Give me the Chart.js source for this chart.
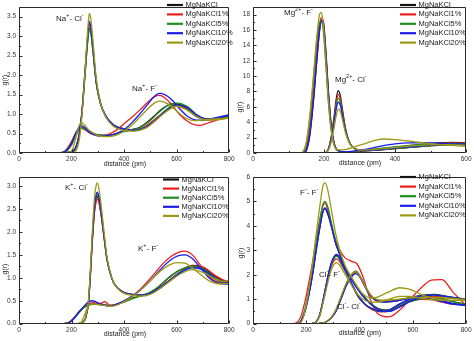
<!DOCTYPE html>
<html>
<head>
<meta charset="utf-8">
<script src="https://cdn.jsdelivr.net/npm/chart.js@4/dist/chart.umd.min.js"></script>
<style>
html, body { margin: 0; padding: 0; background: #fff; }
#wrap { position: relative; width: 474px; height: 341px; overflow: hidden; background: #fff; }
#wrap canvas { position: absolute; }
</style>
</head>
<body>
<div id="wrap">
  <canvas id="pNa" width="237" height="170" style="left:0;top:0"></canvas>
  <canvas id="pMg" width="237" height="170" style="left:237px;top:0"></canvas>
  <canvas id="pK" width="237" height="171" style="left:0;top:170px"></canvas>
  <canvas id="pF" width="237" height="171" style="left:237px;top:170px"></canvas>
</div>
<script>
// Series shared by all four panels
const seriesNames = ['MgNaKCl', 'MgNaKCl1%', 'MgNaKCl5%', 'MgNaKCl10%', 'MgNaKCl20%'];
const seriesColors = ['#141414', '#ee1d1d', '#1f8f1f', '#1c1ced', '#9c9a14'];

// ---- Na+ panel: radial distance (pm) and g(r) per series ----
const naClR = [150,195,215,230,240,250,258,264,268,274,282,294,310,330,360,400,440,480,520,560,600,640,680,720,760,800];
const naCl0  = [0,0.02,0.12,0.5,1.05,1.9,2.6,3.05,3.2,3.08,2.6,1.8,1.28,0.95,0.72,0.62,0.59,0.66,0.86,1.1,1.26,1.18,0.96,0.86,0.88,0.96];
const naCl1  = [0,0.03,0.14,0.52,1.1,1.95,2.68,3.13,3.3,3.16,2.66,1.83,1.28,0.95,0.72,0.62,0.6,0.68,0.88,1.08,1.2,1.13,0.94,0.86,0.88,0.92];
const naCl5  = [0,0.02,0.12,0.5,1.04,1.88,2.58,3.02,3.18,3.06,2.58,1.79,1.27,0.94,0.72,0.62,0.58,0.65,0.85,1.1,1.28,1.2,0.97,0.86,0.87,0.93];
const naCl10 = [0,0.02,0.12,0.5,1.08,1.98,2.72,3.2,3.38,3.22,2.7,1.86,1.3,0.96,0.72,0.61,0.58,0.65,0.85,1.08,1.23,1.17,0.96,0.86,0.88,0.98];
const naCl20 = [0,0,0.04,0.36,0.98,1.95,2.8,3.36,3.58,3.42,2.86,1.92,1.3,0.93,0.68,0.58,0.56,0.63,0.83,1.06,1.2,1.1,0.92,0.84,0.86,0.9];

const naFR = [150,175,200,215,228,238,250,265,285,310,340,370,400,430,460,490,515,535,555,580,610,640,670,690,720,760,800];
const naF0  = [0,0.03,0.22,0.45,0.6,0.65,0.63,0.56,0.5,0.46,0.45,0.5,0.56,0.6,0.66,0.8,0.95,1.08,1.18,1.26,1.25,1.12,0.96,0.9,0.87,0.9,0.96];
const naF1  = [0,0.05,0.3,0.5,0.6,0.63,0.6,0.53,0.47,0.45,0.48,0.58,0.75,0.92,1.1,1.3,1.44,1.48,1.42,1.25,1.0,0.82,0.72,0.71,0.77,0.86,0.9];
const naF5  = [0,0.03,0.2,0.43,0.58,0.64,0.62,0.56,0.5,0.46,0.45,0.49,0.55,0.59,0.65,0.78,0.93,1.06,1.17,1.26,1.27,1.15,0.98,0.9,0.86,0.88,0.93];
const naF10 = [0,0.04,0.25,0.5,0.65,0.7,0.66,0.55,0.47,0.43,0.45,0.5,0.6,0.78,1.0,1.25,1.45,1.53,1.5,1.38,1.15,0.95,0.85,0.84,0.86,0.92,0.98];
const naF20 = [0,0,0.05,0.35,0.7,0.78,0.72,0.6,0.5,0.43,0.42,0.46,0.56,0.72,0.92,1.13,1.28,1.33,1.3,1.2,1.02,0.88,0.83,0.84,0.86,0.88,0.9];

// ---- Mg2+ panel ----
const mgFR = [130,140,150,160,170,180,188,193,198,205,212,220,228,238,260,290,320,350,370,400,440,480,520,560,600];
const mgF0  = [0,0,0.3,2.3,6.6,12.2,16.2,17.3,17.1,13.4,8.3,3.8,1.4,0.35,0.1,0.2,0.3,0.4,0.5,0.65,0.9,1.12,1.3,1.38,1.3];
const mgF1  = [0,0.05,0.6,3.3,7.9,13.8,16.9,17.6,17.0,13.0,7.9,3.5,1.3,0.35,0.1,0.2,0.35,0.5,0.6,0.75,0.95,1.1,1.22,1.3,1.25];
const mgF5  = [0,0.1,1.2,4.4,9.4,14.8,17.0,17.1,15.9,11.6,6.8,3.0,1.1,0.3,0.1,0.25,0.4,0.55,0.65,0.8,1.0,1.12,1.2,1.25,1.2];
const mgF10 = [0,0,0.4,2.5,6.8,12.3,16.1,17.2,16.8,12.9,8.0,3.6,1.3,0.35,0.15,0.3,0.5,0.8,1.0,1.2,1.32,1.33,1.28,1.18,1.1];
const mgF20 = [0,0.15,1.4,4.9,9.9,15.3,18.1,18.3,16.6,12.0,7.0,3.1,1.1,0.4,0.45,0.85,1.3,1.7,1.82,1.75,1.55,1.3,1.12,0.98,0.85];

const mgClR = [195,205,212,220,228,235,240,246,252,260,270,280,295,310,340,380,420,460,500,540,580,600];
const mgCl0  = [0,0.05,0.5,2.0,4.6,7.2,8.1,7.4,5.6,3.3,1.6,0.8,0.4,0.3,0.35,0.5,0.65,0.8,0.95,1.05,1.15,1.2];
const mgCl1  = [0,0.05,0.5,1.9,4.3,6.8,7.6,7.0,5.3,3.1,1.5,0.8,0.4,0.3,0.35,0.5,0.65,0.8,0.95,1.05,1.12,1.15];
const mgCl5  = [0,0.05,0.45,1.8,4.1,6.4,7.1,6.6,5.0,3.0,1.5,0.8,0.4,0.3,0.35,0.5,0.65,0.8,0.92,1.02,1.1,1.12];
const mgCl10 = [0,0.05,0.4,1.7,3.8,5.9,6.6,6.2,4.8,2.9,1.5,0.8,0.42,0.32,0.38,0.55,0.72,0.88,1.0,1.1,1.15,1.15];
const mgCl20 = [0,0.05,0.35,1.4,3.2,5.0,5.7,5.4,4.3,2.7,1.45,0.8,0.45,0.38,0.45,0.62,0.8,0.95,1.05,1.08,1.05,1.0];

// ---- K+ panel ----
const kClR = [220,240,255,265,272,280,288,294,298,304,312,325,335,346,360,375,400,430,460,500,540,580,620,660,700,740,780,800];
const kCl0  = [0,0.02,0.15,0.5,1.1,1.9,2.5,2.72,2.78,2.7,2.42,1.84,1.4,1.13,0.9,0.78,0.68,0.64,0.62,0.66,0.8,0.98,1.15,1.25,1.22,1.05,0.93,0.9];
const kCl1  = [0,0.02,0.15,0.48,1.05,1.85,2.45,2.66,2.72,2.64,2.38,1.82,1.4,1.13,0.9,0.78,0.68,0.64,0.62,0.66,0.8,0.98,1.15,1.26,1.24,1.08,0.95,0.92];
const kCl5  = [0,0.02,0.15,0.5,1.1,1.92,2.54,2.77,2.82,2.74,2.45,1.86,1.41,1.13,0.9,0.78,0.68,0.64,0.62,0.65,0.78,0.96,1.14,1.24,1.2,1.03,0.9,0.88];
const kCl10 = [0,0.02,0.15,0.5,1.12,1.95,2.58,2.82,2.87,2.78,2.48,1.87,1.41,1.13,0.9,0.78,0.68,0.64,0.62,0.66,0.8,0.97,1.13,1.22,1.18,1.02,0.9,0.9];
const kCl20 = [0,0.02,0.16,0.55,1.2,2.1,2.78,3.02,3.07,2.96,2.62,1.95,1.45,1.15,0.9,0.77,0.66,0.62,0.6,0.64,0.78,0.95,1.1,1.18,1.12,1.0,0.92,0.94];

const kFR = [170,190,205,220,235,250,265,280,295,310,327,346,370,400,430,460,490,520,550,580,605,632,660,690,720,760,800];
const kF0  = [0,0.03,0.1,0.2,0.3,0.37,0.41,0.43,0.43,0.42,0.41,0.4,0.42,0.48,0.55,0.6,0.65,0.75,0.9,1.05,1.15,1.22,1.27,1.24,1.1,0.95,0.9];
const kF1  = [0,0.03,0.1,0.2,0.3,0.38,0.43,0.46,0.45,0.44,0.48,0.4,0.42,0.5,0.6,0.74,0.92,1.12,1.32,1.47,1.55,1.58,1.5,1.28,1.05,0.9,0.88];
const kF5  = [0,0.02,0.08,0.18,0.28,0.36,0.4,0.42,0.42,0.41,0.4,0.39,0.41,0.47,0.54,0.6,0.66,0.76,0.9,1.04,1.14,1.21,1.25,1.22,1.08,0.93,0.88];
const kF10 = [0,0.02,0.09,0.19,0.3,0.4,0.47,0.5,0.47,0.43,0.4,0.38,0.42,0.5,0.6,0.72,0.88,1.06,1.25,1.4,1.48,1.5,1.42,1.22,1.02,0.88,0.86];
const kF20 = [0,0,0,0,0.02,0.2,0.4,0.43,0.42,0.41,0.4,0.38,0.4,0.48,0.58,0.72,0.88,1.05,1.2,1.3,1.33,1.32,1.22,1.08,0.95,0.87,0.88];

// ---- anion panel: F-F, Cl-F, Cl-Cl ----
const ffR = [150,165,180,195,210,225,240,252,262,270,280,295,310,326,345,370,390,410,440,470,510,550,590,630,670,710,750,800];
const ff0  = [0,0,0.1,0.5,1.2,2.1,3.2,4.0,4.55,4.7,4.5,3.95,3.3,2.85,2.3,1.85,1.5,1.2,0.85,0.62,0.55,0.72,0.92,1.03,1.08,1.02,0.9,0.8];
const ff1  = [0,0.05,0.3,0.9,1.7,2.6,3.6,4.3,4.8,4.93,4.7,4.0,3.4,3.0,2.7,2.55,2.45,2.0,1.0,0.4,0.28,0.55,1.0,1.45,1.78,1.8,1.3,0.75];
const ff5  = [0,0,0.12,0.6,1.4,2.4,3.5,4.3,4.85,5.0,4.8,4.1,3.4,2.9,2.3,1.85,1.5,1.2,0.85,0.6,0.52,0.7,0.9,1.02,1.08,1.03,0.9,0.78];
const ff10 = [0,0,0.1,0.5,1.2,2.1,3.2,4.0,4.55,4.73,4.55,3.95,3.3,2.8,2.25,1.8,1.45,1.15,0.82,0.58,0.5,0.68,0.92,1.05,1.05,0.95,0.82,0.75];
const ff20 = [0,0,0.05,0.5,1.4,2.6,3.9,4.9,5.6,5.77,5.5,4.6,3.7,3.0,2.4,1.9,1.55,1.25,1.05,1.1,1.3,1.47,1.4,1.2,1.05,0.98,0.95,0.95];

const cfR = [220,235,250,262,275,287,300,314,325,340,358,375,395,420,450,480,510,550,590,630,670,710,750,800];
const cf0  = [0,0.05,0.35,0.9,1.6,2.2,2.63,2.8,2.68,2.32,1.92,1.52,1.12,0.8,0.6,0.52,0.56,0.8,1.0,1.06,1.02,0.92,0.82,0.78];
const cf1  = [0,0.05,0.3,0.85,1.5,2.1,2.5,2.65,2.55,2.25,1.9,1.5,1.1,0.78,0.55,0.48,0.5,0.7,0.9,1.0,0.98,0.88,0.8,0.8];
const cf5  = [0,0.05,0.33,0.88,1.55,2.15,2.58,2.75,2.64,2.3,1.92,1.52,1.12,0.8,0.58,0.5,0.54,0.76,0.96,1.05,1.02,0.92,0.82,0.78];
const cf10 = [0,0.05,0.35,0.9,1.6,2.2,2.65,2.83,2.7,2.35,1.95,1.55,1.15,0.8,0.6,0.5,0.55,0.8,1.0,1.05,1.0,0.9,0.8,0.75];
const cf20 = [0,0.05,0.3,0.8,1.4,1.95,2.35,2.5,2.4,2.12,1.8,1.48,1.18,0.95,0.88,0.9,1.0,1.12,1.12,1.05,0.98,0.95,0.95,0.98];

const ccR = [240,255,270,290,310,330,350,370,386,400,420,440,460,490,520,560,600,640,680,720,760,800];
const cc0  = [0,0.02,0.05,0.2,0.5,1.05,1.6,2.0,2.15,1.98,1.55,1.18,0.98,0.9,0.92,1.0,1.1,1.17,1.2,1.14,1.06,1.0];
const cc1  = [0,0.02,0.05,0.2,0.48,1.0,1.55,1.95,2.1,1.95,1.55,1.2,1.0,0.92,0.92,0.98,1.05,1.1,1.12,1.1,1.05,1.0];
const cc5  = [0,0.02,0.05,0.2,0.5,1.05,1.6,2.0,2.13,1.96,1.52,1.16,0.96,0.88,0.9,0.98,1.08,1.15,1.18,1.12,1.05,1.0];
const cc10 = [0,0.02,0.05,0.2,0.48,1.0,1.55,1.92,2.05,1.92,1.52,1.16,0.96,0.88,0.9,0.98,1.08,1.15,1.17,1.12,1.05,1.0];
const cc20 = [0,0.02,0.06,0.22,0.55,1.1,1.65,2.02,2.13,1.95,1.55,1.2,1.02,0.96,0.98,1.02,1.06,1.08,1.08,1.05,1.02,1.0];

// Axis ticks
const xTicks800 = [0, 200, 400, 600, 800];
const xTicks600 = [0, 200, 400, 600];
const yTicksNa = [0, 0.5, 1.0, 1.5, 2.0, 2.5, 3.0, 3.5];
const yTicksMg = [0, 2, 4, 6, 8, 10, 12, 14, 16, 18];
const yTicksK = [0, 0.5, 1.0, 1.5, 2.0, 2.5, 3.0];
const yTicksF = [0, 1, 2, 3, 4, 5, 6];

const FONT = '"Liberation Sans", Arial, sans-serif';

// Draws a label made of normal and superscript parts
function drawRich(ctx, parts, x, y, size) {
  let cx = x;
  parts.forEach(([txt, sup]) => {
    const fs = sup ? size * 0.68 : size;
    ctx.font = fs + 'px ' + FONT;
    ctx.textBaseline = 'middle';
    ctx.textAlign = 'left';
    ctx.fillText(txt, cx, sup ? y - size * 0.38 : y);
    cx += ctx.measureText(txt).width;
  });
}

// Frame, inward ticks, legend, axis titles and peak annotations
const decoPlugin = {
  id: 'deco',
  afterDatasetsDraw(chart, args, o) {
    const ctx = chart.ctx;
    const a = chart.chartArea;
    const xs = chart.scales.x, ys = chart.scales.y;
    ctx.save();
    // frame
    ctx.strokeStyle = '#2a2a2a';
    ctx.lineWidth = 1;
    const L = Math.round(a.left) + 0.5, R = Math.round(a.right) - 0.5;
    const T = Math.round(a.top) + 0.5, B = Math.round(a.bottom) - 0.5;
    ctx.beginPath();
    ctx.rect(L, T, R - L, B - T);
    ctx.stroke();
    // inward ticks on bottom and left axes
    ctx.beginPath();
    for (let v = xs.min; v <= xs.max + 1e-9; v += o.xMinor) {
      const px = Math.round(xs.getPixelForValue(v)) + 0.5;
      const major = Math.abs(v / o.xMajor - Math.round(v / o.xMajor)) < 1e-6;
      ctx.moveTo(px, B);
      ctx.lineTo(px, B - (major ? 3 : 1.5));
    }
    for (let v = ys.min; v <= ys.max + 1e-9; v += o.yMinor) {
      const py = Math.round(ys.getPixelForValue(v)) + 0.5;
      const major = Math.abs(v / o.yMajor - Math.round(v / o.yMajor)) < 1e-6;
      ctx.moveTo(L, py);
      ctx.lineTo(L + (major ? 3 : 1.5), py);
    }
    ctx.stroke();
    // legend
    ctx.font = '7.5px ' + FONT;
    ctx.textBaseline = 'middle';
    ctx.textAlign = 'left';
    seriesNames.forEach((name, i) => {
      const y = o.legY + i * o.legDy;
      ctx.strokeStyle = seriesColors[i];
      ctx.lineWidth = 2.2;
      ctx.beginPath();
      ctx.moveTo(o.legX, y);
      ctx.lineTo(o.legX + 16, y);
      ctx.stroke();
      ctx.fillStyle = '#222';
      ctx.fillText(name, o.legX + 18.5, y);
    });
    // x axis title
    ctx.fillStyle = '#222';
    ctx.font = '7px ' + FONT;
    ctx.textAlign = 'center';
    ctx.fillText('distance (pm)', o.xTitle[0], o.xTitle[1]);
    // y axis title
    ctx.save();
    ctx.translate(o.yTitle[0], o.yTitle[1]);
    ctx.rotate(-Math.PI / 2);
    ctx.fillText('g(r)', 0, 0);
    ctx.restore();
    // annotations
    ctx.fillStyle = '#1a1a1a';
    o.notes.forEach(n => drawRich(ctx, n.parts, n.x, n.y, 8));
    ctx.restore();
  }
};

function buildDatasets(groups) {
  const out = [];
  groups.forEach(g => {
    g.ys.forEach((ys, i) => {
      out.push({
        label: seriesNames[i],
        data: g.r.map((r, k) => ({ x: r, y: ys[k] })),
        borderColor: seriesColors[i],
        borderWidth: 1.3,
        pointRadius: 0,
        fill: false,
        cubicInterpolationMode: 'monotone',
        order: 5 - i
      });
    });
  });
  return out;
}

function makePanel(id, cfg) {
  const tickFont = { family: FONT, size: 6.5 };
  new Chart(document.getElementById(id), {
    type: 'line',
    data: { datasets: buildDatasets(cfg.groups) },
    options: {
      responsive: false,
      animation: false,
      devicePixelRatio: 1,
      events: [],
      layout: { padding: { top: cfg.padTop, right: cfg.padRight, left: 0, bottom: 0 } },
      plugins: { legend: { display: false }, tooltip: { enabled: false }, deco: cfg.deco },
      scales: {
        x: {
          type: 'linear', min: 0, max: cfg.xMax,
          afterBuildTicks: s => { s.ticks = cfg.xTicks.map(v => ({ value: v })); },
          afterFit: s => { s.height = cfg.xH; },
          grid: { display: false, drawTicks: false },
          border: { display: false },
          ticks: { font: tickFont, color: '#333', padding: 2.5, maxRotation: 0, autoSkip: false }
        },
        y: {
          type: 'linear', min: 0, max: cfg.yMax,
          afterBuildTicks: s => { s.ticks = cfg.yTicks.map(v => ({ value: v })); },
          afterFit: s => { s.width = cfg.yW; },
          grid: { display: false, drawTicks: false },
          border: { display: false },
          ticks: { font: tickFont, color: '#333', padding: 3, autoSkip: false, callback: cfg.yFmt }
        }
      }
    },
    plugins: [decoPlugin]
  });
}

const sup = (t) => [t, true];
const nor = (t) => [t, false];

makePanel('pNa', {
  groups: [
    { r: naClR, ys: [naCl0, naCl1, naCl5, naCl10, naCl20] },
    { r: naFR, ys: [naF0, naF1, naF5, naF10, naF20] }
  ],
  xMax: 800, xTicks: xTicks800, yMax: 3.75, yTicks: yTicksNa,
  yFmt: v => v.toFixed(1), padTop: 1, padRight: 4, xH: 17, yW: 19,
  deco: {
    xMinor: 100, xMajor: 200, yMinor: 0.25, yMajor: 0.5,
    legX: 167, legY: 5, legDy: 9.4, xTitle: [125, 164], yTitle: [5, 80],
    notes: [
      { parts: [nor('Na'), sup('+'), nor('- Cl'), sup('-')], x: 56, y: 19 },
      { parts: [nor('Na'), sup('+'), nor('- F'), sup('-')], x: 132, y: 89 }
    ]
  }
});

makePanel('pMg', {
  groups: [
    { r: mgFR, ys: [mgF0, mgF1, mgF5, mgF10, mgF20] },
    { r: mgClR, ys: [mgCl0, mgCl1, mgCl5, mgCl10, mgCl20] }
  ],
  xMax: 600, xTicks: xTicks600, yMax: 19, yTicks: yTicksMg,
  yFmt: v => String(v), padTop: 1, padRight: 6.5, xH: 17, yW: 16,
  deco: {
    xMinor: 100, xMajor: 200, yMinor: 1, yMajor: 2,
    legX: 163, legY: 5, legDy: 9.4, xTitle: [123, 163], yTitle: [3, 107],
    notes: [
      { parts: [nor('Mg'), sup('2+'), nor('- F'), sup('-')], x: 47, y: 13 },
      { parts: [nor('Mg'), sup('2+'), nor('- Cl'), sup('-')], x: 98, y: 80 }
    ]
  }
});

makePanel('pK', {
  groups: [
    { r: kClR, ys: [kCl0, kCl1, kCl5, kCl10, kCl20] },
    { r: kFR, ys: [kF0, kF1, kF5, kF10, kF20] }
  ],
  xMax: 800, xTicks: xTicks800, yMax: 3.2, yTicks: yTicksK,
  yFmt: v => v.toFixed(1), padTop: 2.5, padRight: 4, xH: 17.3, yW: 19,
  deco: {
    xMinor: 100, xMajor: 200, yMinor: 0.25, yMajor: 0.5,
    legX: 163, legY: 9.5, legDy: 9.1, xTitle: [125, 164.3], yTitle: [5, 99],
    notes: [
      { parts: [nor('K'), sup('+'), nor('- Cl'), sup('-')], x: 65, y: 18 },
      { parts: [nor('K'), sup('+'), nor('- F'), sup('-')], x: 138, y: 79 }
    ]
  }
});

makePanel('pF', {
  groups: [
    { r: ffR, ys: [ff0, ff1, ff5, ff10, ff20] },
    { r: cfR, ys: [cf0, cf1, cf5, cf10, cf20] },
    { r: ccR, ys: [cc0, cc1, cc5, cc10, cc20] }
  ],
  xMax: 800, xTicks: xTicks800, yMax: 6, yTicks: yTicksF,
  yFmt: v => String(v), padTop: 2.5, padRight: 6.5, xH: 17.3, yW: 16,
  deco: {
    xMinor: 100, xMajor: 200, yMinor: 0.5, yMajor: 1,
    legX: 163, legY: 7, legDy: 9.6, xTitle: [123, 163], yTitle: [4, 83],
    notes: [
      { parts: [nor('F'), sup('-'), nor('- F'), sup('-')], x: 63, y: 23 },
      { parts: [nor('Cl'), sup('-'), nor('- F'), sup('-')], x: 82, y: 105 },
      { parts: [nor('Cl'), sup('-'), nor('- Cl'), sup('-')], x: 100, y: 137 }
    ]
  }
});
</script>
</body>
</html>
